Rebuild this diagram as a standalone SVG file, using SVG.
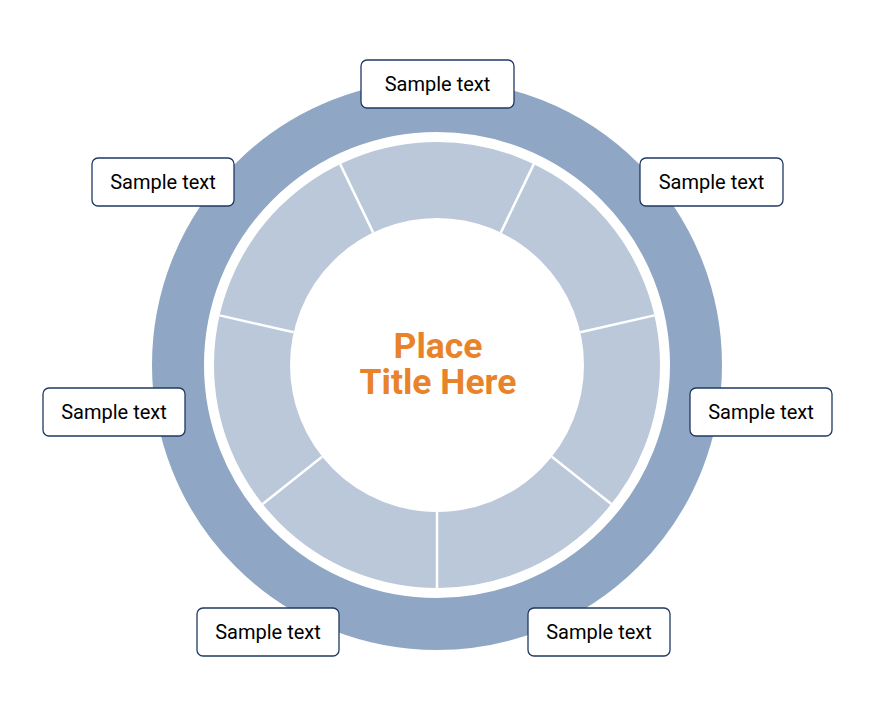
<svg xmlns="http://www.w3.org/2000/svg" width="875" height="715" viewBox="0 0 875 715">
<style>
.box{fill:#fff;stroke:#1F3864;stroke-width:1.3}
.lbl{font-family:Roboto,"Liberation Sans",sans-serif;font-size:20px;fill:#000;text-anchor:middle;dominant-baseline:central}
.div{stroke:#fff;stroke-width:2.5}
</style>
<rect width="875" height="715" fill="#fff"/>
<g id="ring">
<circle cx="437" cy="365" r="259" fill="none" stroke="#8FA7C4" stroke-width="52"/>
<circle cx="437" cy="365" r="185" fill="none" stroke="#BAC8DA" stroke-width="76"/>
</g>
<g id="connectors">
<line class="div" x1="500.8" y1="232.6" x2="533.8" y2="164.1"/>
<line class="div" x1="580.3" y1="332.3" x2="654.4" y2="315.4"/>
<line class="div" x1="551.9" y1="456.7" x2="611.3" y2="504"/>
<line class="div" x1="437" y1="512" x2="437" y2="588"/>
<line class="div" x1="322.1" y1="456.7" x2="262.7" y2="504"/>
<line class="div" x1="293.7" y1="332.3" x2="219.6" y2="315.4"/>
<line class="div" x1="373.2" y1="232.6" x2="340.2" y2="164.1"/>
</g>
<g id="title" font-family="Roboto,'Liberation Sans',sans-serif" font-weight="bold" font-size="35.5" fill="#E8832A" text-anchor="middle">
<text x="438" y="358">Place</text>
<text x="438" y="394">Title Here</text>
</g>
<g id="n1"><rect class="box" x="361" y="60" width="153" height="48" rx="6"/><text class="lbl" x="437.5" y="84">Sample text</text></g>
<g id="n2"><rect class="box" x="640" y="158" width="143" height="48" rx="6"/><text class="lbl" x="711.5" y="182">Sample text</text></g>
<g id="n3"><rect class="box" x="690" y="388" width="142" height="48" rx="6"/><text class="lbl" x="761" y="412">Sample text</text></g>
<g id="n4"><rect class="box" x="528" y="608" width="142" height="48" rx="6"/><text class="lbl" x="599" y="632">Sample text</text></g>
<g id="n5"><rect class="box" x="197" y="608" width="142" height="48" rx="6"/><text class="lbl" x="268" y="632">Sample text</text></g>
<g id="n6"><rect class="box" x="43" y="388" width="142" height="48" rx="6"/><text class="lbl" x="114" y="412">Sample text</text></g>
<g id="n7"><rect class="box" x="92" y="158" width="142" height="48" rx="6"/><text class="lbl" x="163" y="182">Sample text</text></g>
</svg>
